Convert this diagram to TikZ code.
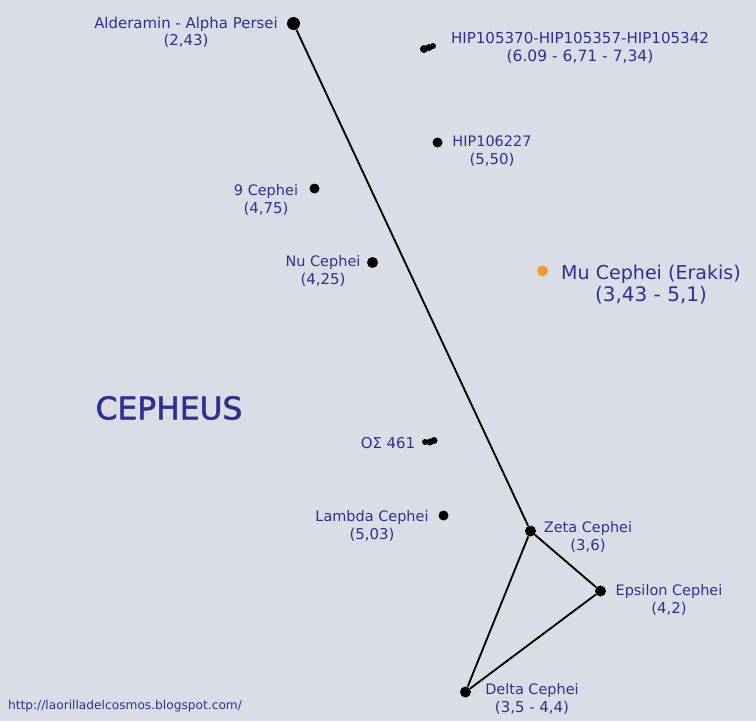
\documentclass[tikz,border=0pt]{standalone}
\usepackage{fontspec}
\setmainfont{DejaVu Sans}
\definecolor{bg}{HTML}{D9DEE6}
\definecolor{lab}{HTML}{2E3192}
\definecolor{orangestar}{HTML}{F39A2B}
\newcommand{\nmtext}[1]{{\fontsize{10.85pt}{13pt}\selectfont #1}}
\tikzset{
 x=0.75pt,y=-0.75pt,
 star/.style={circle,fill=black,inner sep=0pt,minimum size=#1*0.75pt},
 lbl/.style={text=lab,font=\fontsize{11.2pt}{13pt}\selectfont,align=center,inner sep=0pt},
 big/.style={text=lab,font=\fontsize{14.3pt}{16.5pt}\selectfont,align=center,inner sep=0pt},
 conn/.style={black,line width=1.4pt}
}
\begin{document}
\begin{tikzpicture}
\useasboundingbox (0,0) rectangle (756,721);
\fill[bg] (0,0) rectangle (756,721);
\node[star=13] (alder) at (293.5,23.5) {};
\node[star=11] (zeta) at (530.5,531) {};
\node[star=11] (eps) at (600.5,591) {};
\node[star=11] (delta) at (465.5,692) {};
\draw[conn] (alder) -- (zeta) -- (eps) -- (delta) -- (zeta);
\node[star=8] (h1) at (424,49) {};
\node[star=7] (h2) at (429,47.5) {};
\node[star=6] (h3) at (433,46) {};
\node[star=10] (h4) at (437.5,142.5) {};
\node[star=10] (c9) at (314.5,188.5) {};
\node[star=11] (nu) at (372.5,262.5) {};
\node[star=11,fill=orangestar] (mu) at (542.5,271) {};
\node[star=6] (o1) at (425,442) {};
\node[star=7] (o2) at (430,442) {};
\node[star=7] (o3) at (434,440.5) {};
\node[star=10] (lam) at (443.5,515.5) {};
\node[lbl] (t1) at (186,32) {Alderamin - Alpha Persei\\(2,43)};
\node[lbl] (t2) at (580,48) {{\fontsize{11.3pt}{13pt}\selectfont HIP105370-HIP105357-HIP105342}\\{\fontsize{11.65pt}{13pt}\selectfont (6.09 - 6,71 - 7,34)}};
\node[lbl] (t3) at (492,151) {\nmtext{HIP106227}\\(5,50)};
\node[lbl] (t4) at (266,200) {\nmtext{9 Cephei}\\(4,75)};
\node[lbl] (t5) at (323,271) {\nmtext{Nu Cephei}\\(4,25)};
\node[big] (t6) at (651,285) {Mu Cephei (Erakis)\\{\fontsize{15pt}{16.5pt}\selectfont (3,43 - 5,1)}};
\node[text=lab,draw=lab,line width=0.35pt,font=\fontsize{23.5pt}{26pt}\selectfont,inner sep=0pt,draw=none] (t7) at (169,408) {\special{pdf:code 2 Tr 0.4 w}CEPHEUS\special{pdf:code 0 Tr 1 w}};
\node[lbl] (t8) at (388,443) {ΟΣ 461};
\node[lbl] (t9) at (372,526) {\nmtext{Lambda Cephei}\\(5,03)};
\node[lbl] (t10) at (588,537) {\nmtext{Zeta Cephei}\\(3,6)};
\node[lbl] (t11) at (669,600) {\nmtext{Epsilon Cephei}\\(4,2)};
\node[lbl] (t12) at (532,699) {\nmtext{Delta Cephei}\\(3,5 - 4,4)};
\node[text=lab,font=\fontsize{9.15pt}{10pt}\selectfont,inner sep=0pt] (t13) at (125,706) {http://laorilladelcosmos.blogspot.com/};
\end{tikzpicture}
\end{document}
